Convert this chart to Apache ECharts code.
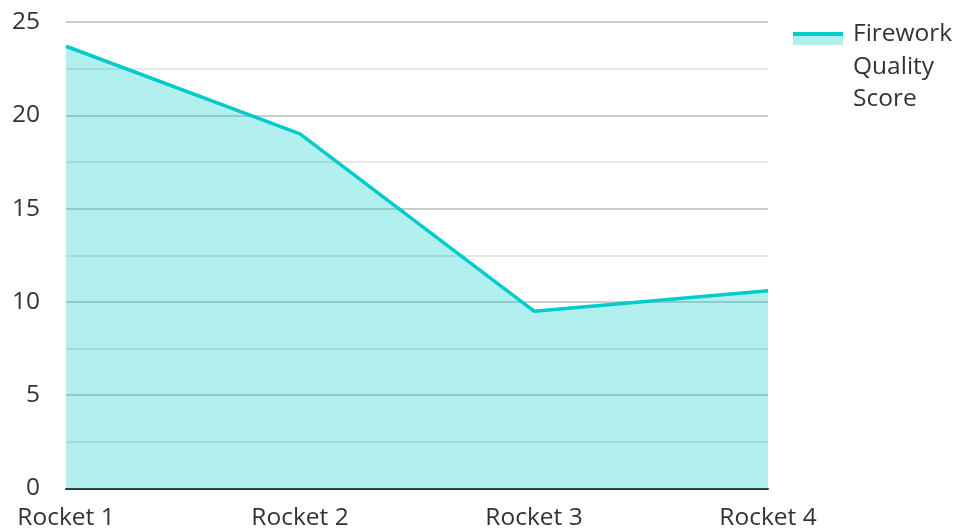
<!DOCTYPE html>
<html>
<head>
<meta charset="utf-8">
<script src="https://cdn.jsdelivr.net/npm/echarts@6/dist/echarts.min.js"></script>
<style>
  html, body { margin: 0; padding: 0; background: #fff; }
  #chart { width: 957px; height: 528px; }
</style>
</head>
<body>
<div id="chart"></div>
<script>
(function(){
"use strict";
var categories = ['Rocket 1', 'Rocket 2', 'Rocket 3', 'Rocket 4'];
var scores = [23.7, 19, 9.5, 10.6];
var seriesName = 'Firework Quality Score';

var teal = '#00cccc';
var textColor = '#333';
var font = 'Open Sans';

var myChart = echarts.init(document.getElementById('chart'));
var option = {
  animation: false,
  grid: {
      left: 66,
      right: 189,
      top: 22,
      bottom: 39.5,
      containLabel: false,
      outerBoundsMode: 'none'
  },
  xAxis: {
      type: 'category',
      data: categories,
      boundaryGap: false,
      axisTick: { show: false },
      axisLine: { lineStyle: { color: '#333', width: 2 } },
      axisLabel: { fontFamily: font, fontSize: 24.5, color: textColor, margin: 17 },
      splitLine: { show: false }
  },
  yAxis: {
      type: 'value',
      min: 0,
      max: 25,
      interval: 5,
      axisLine: { show: false },
      axisTick: { show: false },
      axisLabel: { fontFamily: font, fontSize: 24.5, color: textColor, margin: 26 },
      splitLine: { lineStyle: { color: '#cccccc', width: 2 } },
      minorTick: { show: false, splitNumber: 2 },
      minorSplitLine: { show: true, lineStyle: { color: '#e6e6e6', width: 2 } }
  },
  graphic: [
      { type: 'rect', left: 793, top: 32, shape: { width: 50, height: 4 }, style: { fill: teal } },
      { type: 'rect', left: 793, top: 36, shape: { width: 50, height: 9 }, style: { fill: teal, opacity: 0.3 } },
      {
          type: 'text', left: 853, top: 18,
          style: {
              text: seriesName.split(' ').join('\n'),
              font: '24.5px "' + font + '"',
              lineHeight: 32.5,
              fill: textColor
          }
      }
  ],
  series: [
      {
          name: seriesName,
          type: 'line',
          data: scores,
          showSymbol: false,
          lineStyle: { color: teal, width: 3.5 },
          itemStyle: { color: teal },
          areaStyle: { color: teal, opacity: 0.3 }
      }
  ]
};
myChart.setOption(option);
})();
</script>
</body>
</html>
